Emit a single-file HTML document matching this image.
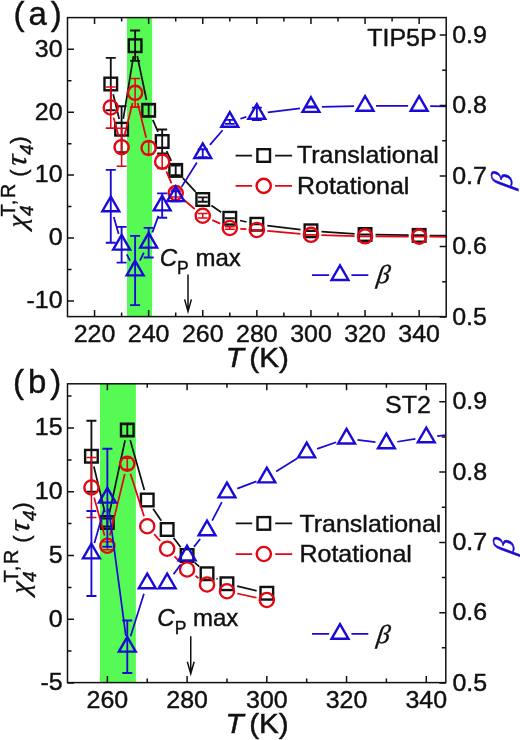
<!DOCTYPE html>
<html lang="en"><head><meta charset="utf-8"><title>Figure</title>
<style>html,body{margin:0;padding:0;background:#fff}body{width:520px;height:740px;overflow:hidden}svg{display:block}</style>
</head><body>
<svg width="520" height="740" viewBox="0 0 520 740">
<rect width="520" height="740" fill="#fff"/>
<clipPath id="ca"><rect x="67.5" y="17.6" width="378.7" height="299"/></clipPath>
<rect x="127.01" y="17.6" width="25.16" height="299" fill="#57fa54"/>
<path d="M113.22 94.21L119.16 118.99M123.28 118.84L133.45 56.06M137.28 55.98L146.5 100.02M152.83 119.93L158 131.87M166.63 151.01L171.25 160.89M182.85 178.09L195.6 191.81M211.38 205.48L221.17 212.27M240.05 220.52L246.6 221.98M267.27 225.51L300.53 229.54M321.43 231.52L354.57 233.78M375.55 234.67L408.65 235.23M429.65 235.52L462.5 235.88" stroke="#111" stroke-width="1.75" fill="none" clip-path="url(#ca)"/>
<path d="M110.78 57.8V110.2M105.78 57.8H115.78M105.78 110.2H115.78M121.6 106.2V152.2M116.6 106.2H126.6M116.6 152.2H126.6M135.12 30.5V60.9M130.12 30.5H140.12M130.12 60.9H140.12M148.65 104.5V116.1M143.65 104.5H153.65M143.65 116.1H153.65M162.18 129.5V153.5M157.18 129.5H167.18M157.18 153.5H167.18M175.7 165.6V175.2M170.7 165.6H180.7M170.7 175.2H180.7M202.75 197.3V201.7M197.75 197.3H207.75M197.75 201.7H207.75M229.8 218.1V218.4M224.8 218.1H234.8M224.8 218.4H234.8M256.85 224.1V224.4M251.85 224.1H261.85M251.85 224.4H261.85M310.95 230.65V230.95M305.95 230.65H315.95M305.95 230.95H315.95M365.05 234.35V234.65M360.05 234.35H370.05M360.05 234.65H370.05M419.15 235.25V235.55M414.15 235.25H424.15M414.15 235.55H424.15" stroke="#111" stroke-width="1.85" fill="none" clip-path="url(#ca)"/>
<rect x="104.48" y="77.7" width="12.6" height="12.6" fill="none" stroke="#111" stroke-width="2.4"/>
<rect x="115.3" y="122.9" width="12.6" height="12.6" fill="none" stroke="#111" stroke-width="2.4"/>
<rect x="128.82" y="39.4" width="12.6" height="12.6" fill="none" stroke="#111" stroke-width="2.4"/>
<rect x="142.35" y="104" width="12.6" height="12.6" fill="none" stroke="#111" stroke-width="2.4"/>
<rect x="155.88" y="135.2" width="12.6" height="12.6" fill="none" stroke="#111" stroke-width="2.4"/>
<rect x="169.4" y="164.1" width="12.6" height="12.6" fill="none" stroke="#111" stroke-width="2.4"/>
<rect x="196.45" y="193.2" width="12.6" height="12.6" fill="none" stroke="#111" stroke-width="2.4"/>
<rect x="223.5" y="211.95" width="12.6" height="12.6" fill="none" stroke="#111" stroke-width="2.4"/>
<rect x="250.55" y="217.95" width="12.6" height="12.6" fill="none" stroke="#111" stroke-width="2.4"/>
<rect x="304.65" y="224.5" width="12.6" height="12.6" fill="none" stroke="#111" stroke-width="2.4"/>
<rect x="358.75" y="228.2" width="12.6" height="12.6" fill="none" stroke="#111" stroke-width="2.4"/>
<rect x="412.85" y="229.1" width="12.6" height="12.6" fill="none" stroke="#111" stroke-width="2.4"/>
<path d="M113.54 117.63L118.84 137.07M124.13 137.01L132.59 102.99M137.62 103L146.15 137.8M166.34 171.34L171.54 183.36M183.74 199.76L194.71 208.99M212.31 220.08L220.24 223.67M240.27 228.77L246.38 229.23M267.31 230.93L300.49 233.87M321.45 235.09L354.55 236.01M375.55 236.36L408.65 236.54M429.65 236.68L462.5 236.92" stroke="#e30613" stroke-width="1.75" fill="none" clip-path="url(#ca)"/>
<path d="M110.78 86.9V128.1M105.78 86.9H115.78M105.78 128.1H115.78M121.6 128.2V166.2M116.6 128.2H126.6M116.6 166.2H126.6M135.12 78.5V107.1M130.12 78.5H140.12M130.12 107.1H140.12M148.65 141.7V154.3M143.65 141.7H153.65M143.65 154.3H153.65M162.18 154.9V168.5M157.18 154.9H167.18M157.18 168.5H167.18M175.7 189V197M170.7 189H180.7M170.7 197H180.7M202.75 213.55V217.95M197.75 213.55H207.75M197.75 217.95H207.75M229.8 226.8V229.2M224.8 226.8H234.8M224.8 229.2H234.8M256.85 229.85V230.15M251.85 229.85H261.85M251.85 230.15H261.85M310.95 234.65V234.95M305.95 234.65H315.95M305.95 234.95H315.95M365.05 236.15V236.45M360.05 236.15H370.05M360.05 236.45H370.05M419.15 236.45V236.75M414.15 236.45H424.15M414.15 236.75H424.15" stroke="#e30613" stroke-width="1.55" fill="none" clip-path="url(#ca)"/>
<circle cx="110.78" cy="107.5" r="7.1" fill="none" stroke="#e30613" stroke-width="2.4"/>
<circle cx="121.6" cy="147.2" r="7.1" fill="none" stroke="#e30613" stroke-width="2.4"/>
<circle cx="135.12" cy="92.8" r="7.1" fill="none" stroke="#e30613" stroke-width="2.4"/>
<circle cx="148.65" cy="148" r="7.1" fill="none" stroke="#e30613" stroke-width="2.4"/>
<circle cx="162.18" cy="161.7" r="7.1" fill="none" stroke="#e30613" stroke-width="2.4"/>
<circle cx="175.7" cy="193" r="7.1" fill="none" stroke="#e30613" stroke-width="2.4"/>
<circle cx="202.75" cy="215.75" r="7.1" fill="none" stroke="#e30613" stroke-width="2.4"/>
<circle cx="229.8" cy="228" r="7.1" fill="none" stroke="#e30613" stroke-width="2.4"/>
<circle cx="256.85" cy="230" r="7.1" fill="none" stroke="#e30613" stroke-width="2.4"/>
<circle cx="310.95" cy="234.8" r="7.1" fill="none" stroke="#e30613" stroke-width="2.4"/>
<circle cx="365.05" cy="236.3" r="7.1" fill="none" stroke="#e30613" stroke-width="2.4"/>
<circle cx="419.15" cy="236.6" r="7.1" fill="none" stroke="#e30613" stroke-width="2.4"/>
<path d="M113.76 216.89L118.62 234.11M126.71 254.44L130.02 260.76M139.94 260.61L143.84 252.59M152.41 232.36L158.42 215.84M181.56 186.89L196.89 162.51M209.94 144.88L222.61 130.22M240.34 118.74L246.31 116.96M267.76 112.43L300.04 108.37M321.95 106.76L354.05 106.04M376.05 105.82L408.15 105.88M430.15 106.12L462 106.78" stroke="#1a0ad6" stroke-width="1.75" fill="none" clip-path="url(#ca)"/>
<path d="M110.78 169.9V242.7M105.78 169.9H115.78M105.78 242.7H115.78M121.6 226.8V262.6M116.6 226.8H126.6M116.6 262.6H126.6M135.12 235.9V305.1M130.12 235.9H140.12M130.12 305.1H140.12M148.65 227.9V257.5M143.65 227.9H153.65M143.65 257.5H153.65M162.18 193.3V217.7M157.18 193.3H167.18M157.18 217.7H167.18M175.7 191.2V201.2M170.7 191.2H180.7M170.7 201.2H180.7M202.75 149.2V157.2M197.75 149.2H207.75M197.75 157.2H207.75M229.8 119.9V123.9M224.8 119.9H234.8M224.8 123.9H234.8M256.85 107.6V120M251.85 107.6H261.85M251.85 120H261.85M310.95 106.4V107.6M305.95 106.4H315.95M305.95 107.6H315.95" stroke="#1a0ad6" stroke-width="1.85" fill="none" clip-path="url(#ca)"/>
<path d="M110.78 196.54L119.23 211.18L102.33 211.18Z" fill="none" stroke="#1a0ad6" stroke-width="2.4" stroke-linejoin="miter"/>
<path d="M121.6 234.94L130.05 249.58L113.15 249.58Z" fill="none" stroke="#1a0ad6" stroke-width="2.4" stroke-linejoin="miter"/>
<path d="M135.12 260.74L143.57 275.38L126.67 275.38Z" fill="none" stroke="#1a0ad6" stroke-width="2.4" stroke-linejoin="miter"/>
<path d="M148.65 232.94L157.1 247.58L140.2 247.58Z" fill="none" stroke="#1a0ad6" stroke-width="2.4" stroke-linejoin="miter"/>
<path d="M162.18 195.74L170.62 210.38L153.73 210.38Z" fill="none" stroke="#1a0ad6" stroke-width="2.4" stroke-linejoin="miter"/>
<path d="M175.7 186.44L184.15 201.08L167.25 201.08Z" fill="none" stroke="#1a0ad6" stroke-width="2.4" stroke-linejoin="miter"/>
<path d="M202.75 143.44L211.2 158.08L194.3 158.08Z" fill="none" stroke="#1a0ad6" stroke-width="2.4" stroke-linejoin="miter"/>
<path d="M229.8 112.14L238.25 126.78L221.35 126.78Z" fill="none" stroke="#1a0ad6" stroke-width="2.4" stroke-linejoin="miter"/>
<path d="M256.85 104.04L265.3 118.68L248.4 118.68Z" fill="none" stroke="#1a0ad6" stroke-width="2.4" stroke-linejoin="miter"/>
<path d="M310.95 97.24L319.4 111.88L302.5 111.88Z" fill="none" stroke="#1a0ad6" stroke-width="2.4" stroke-linejoin="miter"/>
<path d="M365.05 96.04L373.5 110.68L356.6 110.68Z" fill="none" stroke="#1a0ad6" stroke-width="2.4" stroke-linejoin="miter"/>
<path d="M419.15 96.14L427.6 110.78L410.7 110.78Z" fill="none" stroke="#1a0ad6" stroke-width="2.4" stroke-linejoin="miter"/>
<rect x="67.5" y="17.6" width="378.7" height="299" fill="none" stroke="#111" stroke-width="1.5"/>
<path d="M94.55 316.6v-6.5M94.55 17.6v6.5M148.65 316.6v-6.5M148.65 17.6v6.5M202.75 316.6v-6.5M202.75 17.6v6.5M256.85 316.6v-6.5M256.85 17.6v6.5M310.95 316.6v-6.5M310.95 17.6v6.5M365.05 316.6v-6.5M365.05 17.6v6.5M419.15 316.6v-6.5M419.15 17.6v6.5M121.6 316.6v-4M121.6 17.6v4M175.7 316.6v-4M175.7 17.6v4M229.8 316.6v-4M229.8 17.6v4M283.9 316.6v-4M283.9 17.6v4M338 316.6v-4M338 17.6v4M392.1 316.6v-4M392.1 17.6v4M67.5 300.9h6.5M67.5 238h6.5M67.5 175.1h6.5M67.5 112.2h6.5M67.5 49.3h6.5M67.5 269.45h4M67.5 206.55h4M67.5 143.65h4M67.5 80.75h4M446.2 317h-6.5M446.2 246.5h-6.5M446.2 176h-6.5M446.2 105.5h-6.5M446.2 35h-6.5M446.2 281.75h-4M446.2 211.25h-4M446.2 140.75h-4M446.2 70.25h-4" stroke="#111" stroke-width="1.5" fill="none"/>
<clipPath id="cb"><rect x="67.5" y="383.8" width="378.3" height="298.8"/></clipPath>
<rect x="99.99" y="383.8" width="35.88" height="298.8" fill="#57fa54"/>
<path d="M93.87 466.46L104.91 512.29M109.57 512.24L125.08 440.26M130.17 440.1L144.35 489.9M153.1 508.7L161.28 520.8M173.55 537.83L180.7 547.17M194.83 562.59L199.28 566.66M216.41 578.46L217.57 579.04M237.17 586.18L256.6 590.82" stroke="#111" stroke-width="1.75" fill="none" clip-path="url(#cb)"/>
<path d="M91.42 420.75V491.75M86.42 420.75H96.42M86.42 491.75H96.42M107.36 518.5V526.5M102.36 518.5H112.36M102.36 526.5H112.36M127.29 424.4V435.6M122.29 424.4H132.29M122.29 435.6H132.29" stroke="#111" stroke-width="1.85" fill="none" clip-path="url(#cb)"/>
<rect x="85.12" y="449.95" width="12.6" height="12.6" fill="none" stroke="#111" stroke-width="2.4"/>
<rect x="101.06" y="516.2" width="12.6" height="12.6" fill="none" stroke="#111" stroke-width="2.4"/>
<rect x="120.99" y="423.7" width="12.6" height="12.6" fill="none" stroke="#111" stroke-width="2.4"/>
<rect x="140.93" y="493.7" width="12.6" height="12.6" fill="none" stroke="#111" stroke-width="2.4"/>
<rect x="160.86" y="523.2" width="12.6" height="12.6" fill="none" stroke="#111" stroke-width="2.4"/>
<rect x="180.79" y="549.2" width="12.6" height="12.6" fill="none" stroke="#111" stroke-width="2.4"/>
<rect x="200.72" y="567.45" width="12.6" height="12.6" fill="none" stroke="#111" stroke-width="2.4"/>
<rect x="220.65" y="577.45" width="12.6" height="12.6" fill="none" stroke="#111" stroke-width="2.4"/>
<rect x="260.52" y="586.95" width="12.6" height="12.6" fill="none" stroke="#111" stroke-width="2.4"/>
<path d="M94.19 497.63L104.59 535.62M109.84 535.55L124.81 473.95M130.48 473.75L144.04 516.25M154.19 534.11L160.2 540.89M174.43 556.32L179.82 561.93M195.48 575.81L198.63 578.19M237.21 593.5L256.56 597.75" stroke="#e30613" stroke-width="1.75" fill="none" clip-path="url(#cb)"/>
<path d="M91.42 457.5V517.5M86.42 457.5H96.42M86.42 517.5H96.42M107.36 541.75V549.75M102.36 541.75H112.36M102.36 549.75H112.36M127.29 458.15V469.35M122.29 458.15H132.29M122.29 469.35H132.29" stroke="#e30613" stroke-width="1.55" fill="none" clip-path="url(#cb)"/>
<circle cx="91.42" cy="487.5" r="7.1" fill="none" stroke="#e30613" stroke-width="2.4"/>
<circle cx="107.36" cy="545.75" r="7.1" fill="none" stroke="#e30613" stroke-width="2.4"/>
<circle cx="127.29" cy="463.75" r="7.1" fill="none" stroke="#e30613" stroke-width="2.4"/>
<circle cx="147.23" cy="526.25" r="7.1" fill="none" stroke="#e30613" stroke-width="2.4"/>
<circle cx="167.16" cy="548.75" r="7.1" fill="none" stroke="#e30613" stroke-width="2.4"/>
<circle cx="187.09" cy="569.5" r="7.1" fill="none" stroke="#e30613" stroke-width="2.4"/>
<circle cx="207.02" cy="584.5" r="7.1" fill="none" stroke="#e30613" stroke-width="2.4"/>
<circle cx="226.95" cy="591.25" r="7.1" fill="none" stroke="#e30613" stroke-width="2.4"/>
<circle cx="266.82" cy="600" r="7.1" fill="none" stroke="#e30613" stroke-width="2.4"/>
<path d="M94.44 542.92L104.34 508.28M108.82 508.6L125.84 635.85M130.59 636.26L143.93 593.79M173.57 574.36L180.68 564.44M193.93 546.89L200.18 539.01M212.14 520.66L221.84 502.19M237.25 488.58L256.52 481.32M276.13 471.61L297.36 458.29M317.07 448.84L336.15 442.21M357.46 439.92L375.48 442.08M397.28 441.74L415.39 438.96M437.2 436.12L455.06 434.18" stroke="#1a0ad6" stroke-width="1.75" fill="none" clip-path="url(#cb)"/>
<path d="M91.42 511V596M86.42 511H96.42M86.42 596H96.42M107.36 448.7V546.7M102.36 448.7H112.36M102.36 546.7H112.36M127.29 620.5V673M122.29 620.5H132.29M122.29 673H132.29" stroke="#1a0ad6" stroke-width="1.85" fill="none" clip-path="url(#cb)"/>
<path d="M91.42 543.74L99.87 558.38L82.97 558.38Z" fill="none" stroke="#1a0ad6" stroke-width="2.4" stroke-linejoin="miter"/>
<path d="M107.36 487.94L115.81 502.58L98.91 502.58Z" fill="none" stroke="#1a0ad6" stroke-width="2.4" stroke-linejoin="miter"/>
<path d="M127.29 636.99L135.74 651.63L118.84 651.63Z" fill="none" stroke="#1a0ad6" stroke-width="2.4" stroke-linejoin="miter"/>
<path d="M147.23 573.54L155.68 588.18L138.78 588.18Z" fill="none" stroke="#1a0ad6" stroke-width="2.4" stroke-linejoin="miter"/>
<path d="M167.16 573.54L175.61 588.18L158.71 588.18Z" fill="none" stroke="#1a0ad6" stroke-width="2.4" stroke-linejoin="miter"/>
<path d="M187.09 545.74L195.54 560.38L178.64 560.38Z" fill="none" stroke="#1a0ad6" stroke-width="2.4" stroke-linejoin="miter"/>
<path d="M207.02 520.64L215.47 535.28L198.57 535.28Z" fill="none" stroke="#1a0ad6" stroke-width="2.4" stroke-linejoin="miter"/>
<path d="M226.95 482.69L235.4 497.33L218.5 497.33Z" fill="none" stroke="#1a0ad6" stroke-width="2.4" stroke-linejoin="miter"/>
<path d="M266.82 467.69L275.27 482.33L258.37 482.33Z" fill="none" stroke="#1a0ad6" stroke-width="2.4" stroke-linejoin="miter"/>
<path d="M306.68 442.69L315.13 457.33L298.23 457.33Z" fill="none" stroke="#1a0ad6" stroke-width="2.4" stroke-linejoin="miter"/>
<path d="M346.54 428.84L354.99 443.48L338.09 443.48Z" fill="none" stroke="#1a0ad6" stroke-width="2.4" stroke-linejoin="miter"/>
<path d="M386.41 433.64L394.86 448.28L377.96 448.28Z" fill="none" stroke="#1a0ad6" stroke-width="2.4" stroke-linejoin="miter"/>
<path d="M426.27 427.54L434.72 442.18L417.82 442.18Z" fill="none" stroke="#1a0ad6" stroke-width="2.4" stroke-linejoin="miter"/>
<rect x="67.5" y="383.8" width="378.3" height="298.8" fill="none" stroke="#111" stroke-width="1.5"/>
<path d="M107.36 682.6v-6.5M107.36 383.8v6.5M187.09 682.6v-6.5M187.09 383.8v6.5M266.82 682.6v-6.5M266.82 383.8v6.5M346.54 682.6v-6.5M346.54 383.8v6.5M426.27 682.6v-6.5M426.27 383.8v6.5M147.23 682.6v-4M147.23 383.8v4M226.95 682.6v-4M226.95 383.8v4M306.68 682.6v-4M306.68 383.8v4M386.41 682.6v-4M386.41 383.8v4M67.5 683h6.5M67.5 619.25h6.5M67.5 555.5h6.5M67.5 491.75h6.5M67.5 428h6.5M67.5 651.12h4M67.5 587.38h4M67.5 523.62h4M67.5 459.88h4M67.5 396.12h4M445.8 683h-6.5M445.8 612.7h-6.5M445.8 542.4h-6.5M445.8 472.1h-6.5M445.8 401.8h-6.5M445.8 647.85h-4M445.8 577.55h-4M445.8 507.25h-4M445.8 436.95h-4" stroke="#111" stroke-width="1.5" fill="none"/>
<text transform="translate(94.55 342) scale(1.04 1)" font-family='"Liberation Sans", Arial, sans-serif' font-size="24" text-anchor="middle" fill="#111" stroke="#111" stroke-width="0.42">220</text>
<text transform="translate(148.65 342) scale(1.04 1)" font-family='"Liberation Sans", Arial, sans-serif' font-size="24" text-anchor="middle" fill="#111" stroke="#111" stroke-width="0.42">240</text>
<text transform="translate(202.75 342) scale(1.04 1)" font-family='"Liberation Sans", Arial, sans-serif' font-size="24" text-anchor="middle" fill="#111" stroke="#111" stroke-width="0.42">260</text>
<text transform="translate(256.85 342) scale(1.04 1)" font-family='"Liberation Sans", Arial, sans-serif' font-size="24" text-anchor="middle" fill="#111" stroke="#111" stroke-width="0.42">280</text>
<text transform="translate(310.95 342) scale(1.04 1)" font-family='"Liberation Sans", Arial, sans-serif' font-size="24" text-anchor="middle" fill="#111" stroke="#111" stroke-width="0.42">300</text>
<text transform="translate(365.05 342) scale(1.04 1)" font-family='"Liberation Sans", Arial, sans-serif' font-size="24" text-anchor="middle" fill="#111" stroke="#111" stroke-width="0.42">320</text>
<text transform="translate(419.15 342) scale(1.04 1)" font-family='"Liberation Sans", Arial, sans-serif' font-size="24" text-anchor="middle" fill="#111" stroke="#111" stroke-width="0.42">340</text>
<text transform="translate(62.6 308.2) scale(1.04 1)" font-family='"Liberation Sans", Arial, sans-serif' font-size="24" text-anchor="end" fill="#111" stroke="#111" stroke-width="0.42">-10</text>
<text transform="translate(62.6 245.3) scale(1.04 1)" font-family='"Liberation Sans", Arial, sans-serif' font-size="24" text-anchor="end" fill="#111" stroke="#111" stroke-width="0.42">0</text>
<text transform="translate(62.6 182.4) scale(1.04 1)" font-family='"Liberation Sans", Arial, sans-serif' font-size="24" text-anchor="end" fill="#111" stroke="#111" stroke-width="0.42">10</text>
<text transform="translate(62.6 119.5) scale(1.04 1)" font-family='"Liberation Sans", Arial, sans-serif' font-size="24" text-anchor="end" fill="#111" stroke="#111" stroke-width="0.42">20</text>
<text transform="translate(62.6 56.6) scale(1.04 1)" font-family='"Liberation Sans", Arial, sans-serif' font-size="24" text-anchor="end" fill="#111" stroke="#111" stroke-width="0.42">30</text>
<text transform="translate(452.2 324.5) scale(1.04 1)" font-family='"Liberation Sans", Arial, sans-serif' font-size="24" text-anchor="start" fill="#111" stroke="#111" stroke-width="0.42">0.5</text>
<text transform="translate(452.2 254) scale(1.04 1)" font-family='"Liberation Sans", Arial, sans-serif' font-size="24" text-anchor="start" fill="#111" stroke="#111" stroke-width="0.42">0.6</text>
<text transform="translate(452.2 183.5) scale(1.04 1)" font-family='"Liberation Sans", Arial, sans-serif' font-size="24" text-anchor="start" fill="#111" stroke="#111" stroke-width="0.42">0.7</text>
<text transform="translate(452.2 113) scale(1.04 1)" font-family='"Liberation Sans", Arial, sans-serif' font-size="24" text-anchor="start" fill="#111" stroke="#111" stroke-width="0.42">0.8</text>
<text transform="translate(452.2 42.5) scale(1.04 1)" font-family='"Liberation Sans", Arial, sans-serif' font-size="24" text-anchor="start" fill="#111" stroke="#111" stroke-width="0.42">0.9</text>
<text transform="translate(107.36 708) scale(1.04 1)" font-family='"Liberation Sans", Arial, sans-serif' font-size="24" text-anchor="middle" fill="#111" stroke="#111" stroke-width="0.42">260</text>
<text transform="translate(187.09 708) scale(1.04 1)" font-family='"Liberation Sans", Arial, sans-serif' font-size="24" text-anchor="middle" fill="#111" stroke="#111" stroke-width="0.42">280</text>
<text transform="translate(266.82 708) scale(1.04 1)" font-family='"Liberation Sans", Arial, sans-serif' font-size="24" text-anchor="middle" fill="#111" stroke="#111" stroke-width="0.42">300</text>
<text transform="translate(346.54 708) scale(1.04 1)" font-family='"Liberation Sans", Arial, sans-serif' font-size="24" text-anchor="middle" fill="#111" stroke="#111" stroke-width="0.42">320</text>
<text transform="translate(426.27 708) scale(1.04 1)" font-family='"Liberation Sans", Arial, sans-serif' font-size="24" text-anchor="middle" fill="#111" stroke="#111" stroke-width="0.42">340</text>
<text transform="translate(62.6 690.3) scale(1.04 1)" font-family='"Liberation Sans", Arial, sans-serif' font-size="24" text-anchor="end" fill="#111" stroke="#111" stroke-width="0.42">-5</text>
<text transform="translate(62.6 626.55) scale(1.04 1)" font-family='"Liberation Sans", Arial, sans-serif' font-size="24" text-anchor="end" fill="#111" stroke="#111" stroke-width="0.42">0</text>
<text transform="translate(62.6 562.8) scale(1.04 1)" font-family='"Liberation Sans", Arial, sans-serif' font-size="24" text-anchor="end" fill="#111" stroke="#111" stroke-width="0.42">5</text>
<text transform="translate(62.6 499.05) scale(1.04 1)" font-family='"Liberation Sans", Arial, sans-serif' font-size="24" text-anchor="end" fill="#111" stroke="#111" stroke-width="0.42">10</text>
<text transform="translate(62.6 435.3) scale(1.04 1)" font-family='"Liberation Sans", Arial, sans-serif' font-size="24" text-anchor="end" fill="#111" stroke="#111" stroke-width="0.42">15</text>
<text transform="translate(452.4 690.5) scale(1.04 1)" font-family='"Liberation Sans", Arial, sans-serif' font-size="24" text-anchor="start" fill="#111" stroke="#111" stroke-width="0.42">0.5</text>
<text transform="translate(452.4 620.2) scale(1.04 1)" font-family='"Liberation Sans", Arial, sans-serif' font-size="24" text-anchor="start" fill="#111" stroke="#111" stroke-width="0.42">0.6</text>
<text transform="translate(452.4 549.9) scale(1.04 1)" font-family='"Liberation Sans", Arial, sans-serif' font-size="24" text-anchor="start" fill="#111" stroke="#111" stroke-width="0.42">0.7</text>
<text transform="translate(452.4 479.6) scale(1.04 1)" font-family='"Liberation Sans", Arial, sans-serif' font-size="24" text-anchor="start" fill="#111" stroke="#111" stroke-width="0.42">0.8</text>
<text transform="translate(452.4 409.3) scale(1.04 1)" font-family='"Liberation Sans", Arial, sans-serif' font-size="24" text-anchor="start" fill="#111" stroke="#111" stroke-width="0.42">0.9</text>
<text transform="translate(13.4 24.8)" font-family='"Liberation Sans", Arial, sans-serif' font-size="33" text-anchor="start" fill="#111" stroke="#111" stroke-width="0.42" letter-spacing="4">(a)</text>
<text transform="translate(436.6 46) scale(1.04 1)" font-family='"Liberation Sans", Arial, sans-serif' font-size="24" text-anchor="end" fill="#111" stroke="#111" stroke-width="0.42">TIP5P</text>
<text transform="translate(225.7 367) scale(1.04 1)" font-family='"Liberation Sans", Arial, sans-serif' font-size="28.5" word-spacing="-2.6" fill="#111" stroke="#111" stroke-width="0.5"><tspan font-style="italic">T</tspan> (K)</text>
<path d="M235.6 155.5h16.5m23 0h17" stroke="#111" stroke-width="1.75"/>
<rect x="257.4" y="149.2" width="12.6" height="12.6" fill="none" stroke="#111" stroke-width="2.4"/>
<path d="M235.6 185.9h16.5m23 0h17" stroke="#e30613" stroke-width="1.75"/>
<circle cx="263.7" cy="185.9" r="7.1" fill="none" stroke="#e30613" stroke-width="2.4"/>
<path d="M312 275.1h17.1m22.3 0h16.9" stroke="#1a0ad6" stroke-width="1.75"/>
<path d="M340 265.34L348.45 279.98L331.55 279.98Z" fill="none" stroke="#1a0ad6" stroke-width="2.4" stroke-linejoin="miter"/>
<text transform="translate(297 163.3) scale(1.04 1)" font-family='"Liberation Sans", Arial, sans-serif' font-size="24" text-anchor="start" fill="#111" stroke="#111" stroke-width="0.42">Translational</text>
<text transform="translate(297 193.9) scale(1.04 1)" font-family='"Liberation Sans", Arial, sans-serif' font-size="24" text-anchor="start" fill="#111" stroke="#111" stroke-width="0.42">Rotational</text>
<text transform="translate(375.9 283.4) skewX(-8)" font-family='"Liberation Serif", "Times New Roman", serif' font-size="26" text-anchor="start" fill="#111" stroke="#111" stroke-width="0.42" font-style="italic">β</text>
<text transform="translate(159.7 265.5) scale(1.0 1)" font-family='"Liberation Sans", Arial, sans-serif' font-size="24" fill="#111" stroke="#111" stroke-width="0.42"><tspan font-style="italic">C</tspan><tspan font-size="17.5" dy="8.2">P</tspan><tspan dy="-8.2"> max</tspan></text>
<path d="M188 274.5V311.4M184.6 299.4L188 311.4L191.4 299.4" stroke="#111" stroke-width="1.5" fill="none"/>
<text transform="translate(512.3 189.6) rotate(-90) skewX(-11)" font-family='"Liberation Serif", "Times New Roman", serif' font-size="30" text-anchor="start" fill="#1a0ad6" stroke="#1a0ad6" stroke-width="0.42" font-style="italic">β</text>
<g transform="translate(25.5 230.6) rotate(-90)" fill="#111" stroke="#111" stroke-width="0.42">
<text font-family='"Liberation Serif", "Times New Roman", serif' font-style="italic" font-size="27.5" transform="skewX(-8)" x="1.5" y="0">χ</text>
<text font-family='"Liberation Sans", Arial, sans-serif' font-style="italic" font-size="19" x="14.6" y="7">4</text>
<text font-family='"Liberation Sans", Arial, sans-serif' font-size="20" letter-spacing="1.3" x="14.1" y="-11">T,R</text>
<text font-family='"Liberation Sans", Arial, sans-serif' font-size="22" x="53.9" y="0">(</text>
<text font-family='"Liberation Serif", "Times New Roman", serif' font-style="italic" font-size="30" transform="translate(63.6 0) skewX(-8)" x="0" y="0">τ</text>
<text font-family='"Liberation Sans", Arial, sans-serif' font-style="italic" font-size="19" x="75.6" y="7">4</text>
<text font-family='"Liberation Sans", Arial, sans-serif' font-size="22" x="86.8" y="0">)</text>
</g>
<text transform="translate(13 392.6)" font-family='"Liberation Sans", Arial, sans-serif' font-size="33" text-anchor="start" fill="#111" stroke="#111" stroke-width="0.42" letter-spacing="4">(b)</text>
<text transform="translate(430.8 412.5) scale(1.04 1)" font-family='"Liberation Sans", Arial, sans-serif' font-size="24" text-anchor="end" fill="#111" stroke="#111" stroke-width="0.42">ST2</text>
<text transform="translate(225.6 733) scale(1.04 1)" font-family='"Liberation Sans", Arial, sans-serif' font-size="28.5" word-spacing="-2.6" fill="#111" stroke="#111" stroke-width="0.5"><tspan font-style="italic">T</tspan> (K)</text>
<path d="M235.7 523.4h16.5m23 0h17" stroke="#111" stroke-width="1.75"/>
<rect x="257.5" y="517.1" width="12.6" height="12.6" fill="none" stroke="#111" stroke-width="2.4"/>
<path d="M235.7 554h16.5m23 0h17" stroke="#e30613" stroke-width="1.75"/>
<circle cx="263.8" cy="554" r="7.1" fill="none" stroke="#e30613" stroke-width="2.4"/>
<path d="M312 633.9h17.1m22.3 0h16.9" stroke="#1a0ad6" stroke-width="1.75"/>
<path d="M340 624.14L348.45 638.78L331.55 638.78Z" fill="none" stroke="#1a0ad6" stroke-width="2.4" stroke-linejoin="miter"/>
<text transform="translate(299.5 531.7) scale(1.04 1)" font-family='"Liberation Sans", Arial, sans-serif' font-size="24" text-anchor="start" fill="#111" stroke="#111" stroke-width="0.42">Translational</text>
<text transform="translate(299.5 562.2) scale(1.04 1)" font-family='"Liberation Sans", Arial, sans-serif' font-size="24" text-anchor="start" fill="#111" stroke="#111" stroke-width="0.42">Rotational</text>
<text transform="translate(375.9 642.7) skewX(-8)" font-family='"Liberation Serif", "Times New Roman", serif' font-size="26" text-anchor="start" fill="#111" stroke="#111" stroke-width="0.42" font-style="italic">β</text>
<text transform="translate(157.3 625.5) scale(1.0 1)" font-family='"Liberation Sans", Arial, sans-serif' font-size="24" fill="#111" stroke="#111" stroke-width="0.42"><tspan font-style="italic">C</tspan><tspan font-size="17.5" dy="8.2">P</tspan><tspan dy="-8.2"> max</tspan></text>
<path d="M190.75 636.3V673.8M187.35 661.8L190.75 673.8L194.15 661.8" stroke="#111" stroke-width="1.5" fill="none"/>
<text transform="translate(514.1 555.3) rotate(-90) skewX(-11)" font-family='"Liberation Serif", "Times New Roman", serif' font-size="30" text-anchor="start" fill="#1a0ad6" stroke="#1a0ad6" stroke-width="0.42" font-style="italic">β</text>
<g transform="translate(29.3 596.6) rotate(-90)" fill="#111" stroke="#111" stroke-width="0.42">
<text font-family='"Liberation Serif", "Times New Roman", serif' font-style="italic" font-size="27.5" transform="skewX(-8)" x="1.5" y="0">χ</text>
<text font-family='"Liberation Sans", Arial, sans-serif' font-style="italic" font-size="19" x="14.6" y="7">4</text>
<text font-family='"Liberation Sans", Arial, sans-serif' font-size="20" letter-spacing="1.3" x="14.1" y="-11">T,R</text>
<text font-family='"Liberation Sans", Arial, sans-serif' font-size="22" x="53.9" y="0">(</text>
<text font-family='"Liberation Serif", "Times New Roman", serif' font-style="italic" font-size="30" transform="translate(63.6 0) skewX(-8)" x="0" y="0">τ</text>
<text font-family='"Liberation Sans", Arial, sans-serif' font-style="italic" font-size="19" x="75.6" y="7">4</text>
<text font-family='"Liberation Sans", Arial, sans-serif' font-size="22" x="86.8" y="0">)</text>
</g>
</svg>
</body></html>
